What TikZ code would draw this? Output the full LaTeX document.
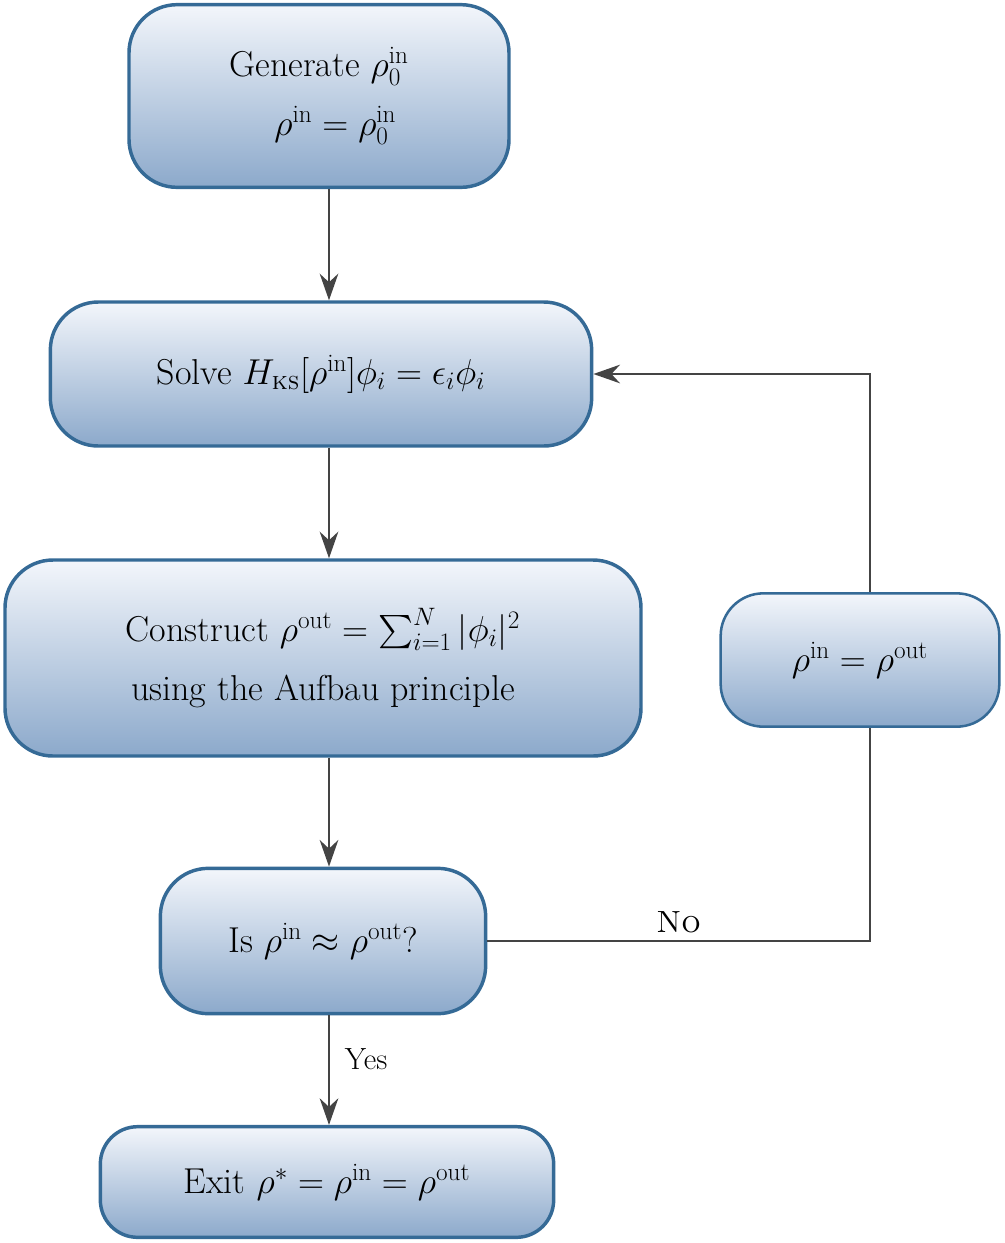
\RequirePackage{fix-cm}
\documentclass[tikz,border=0pt]{standalone}
\usepackage{amsmath}
\usetikzlibrary{arrows.meta}
\begin{document}
\begin{tikzpicture}[x=0.75pt,y=-0.75pt,
  box/.style={draw=bd,line width=2.6pt,rounded corners=36pt,top color=topc,bottom color=botc,align=center,font=\fontsize{27}{44}\selectfont,inner sep=0pt},
  arr/.style={draw=ln,line width=1.3pt,-{Stealth[length=20pt,width=14pt]}},
  ln1/.style={draw=ln,line width=1.3pt}]
\definecolor{bd}{HTML}{356A96}
\definecolor{topc}{HTML}{F3F6FB}
\definecolor{botc}{HTML}{8CA9CB}
\definecolor{ln}{HTML}{444444}
\useasboundingbox (0,0) rectangle (1004,1243);
\coordinate (ax) at (329,0);
\node[box,minimum width=285pt,minimum height=137pt] (gen) at (319,96) {Generate $\rho_0^{\text{in}}$\\ \ \ \ $\rho^{\text{in}}=\rho_0^{\text{in}}$};
\node[box,minimum width=406pt,minimum height=108pt] (solve) at (321,374) {Solve $H_{\textsc{ks}}[\rho^{\text{in}}]\phi_i=\epsilon_i\phi_i$};
\node[box,minimum width=477pt,minimum height=147pt] (con) at (323,658) {Construct $\rho^{\text{out}}=\sum_{i=1}^{N}|\phi_i|^2$\\using the Aufbau principle};
\node[box,line width=1.9pt,minimum width=209pt,minimum height=100pt,rounded corners=32pt] (upd) at (860,660) {$\rho^{\text{in}}=\rho^{\text{out}}$};
\node[box,minimum width=244pt,minimum height=109pt] (is) at (323,941) {Is $\rho^{\text{in}}\approx\rho^{\text{out}}$?};
\node[box,minimum width=340pt,minimum height=83pt,rounded corners=28pt] (exit) at (327,1182) {Exit $\rho^{*}=\rho^{\text{in}}=\rho^{\text{out}}$};
\draw[arr] (ax |- gen.south) -- (ax |- solve.north);
\draw[arr] (ax |- solve.south) -- (ax |- con.north);
\draw[arr] (ax |- con.south) -- (ax |- is.north);
\draw[arr] (ax |- is.south) -- node[right,font=\fontsize{23}{28}\selectfont,xshift=8pt,yshift=8pt]{Yes} (ax |- exit.north);
\draw[ln1] (is.east) -- node[above,font=\fontsize{23}{28}\selectfont,pos=0.5,yshift=2pt]{\textsc{No}} (870,941) -- (upd.south -| 870,0);
\draw[arr] (upd.north -| 870,0) -- (870,374) -- (solve.east);
\end{tikzpicture}
\end{document}
